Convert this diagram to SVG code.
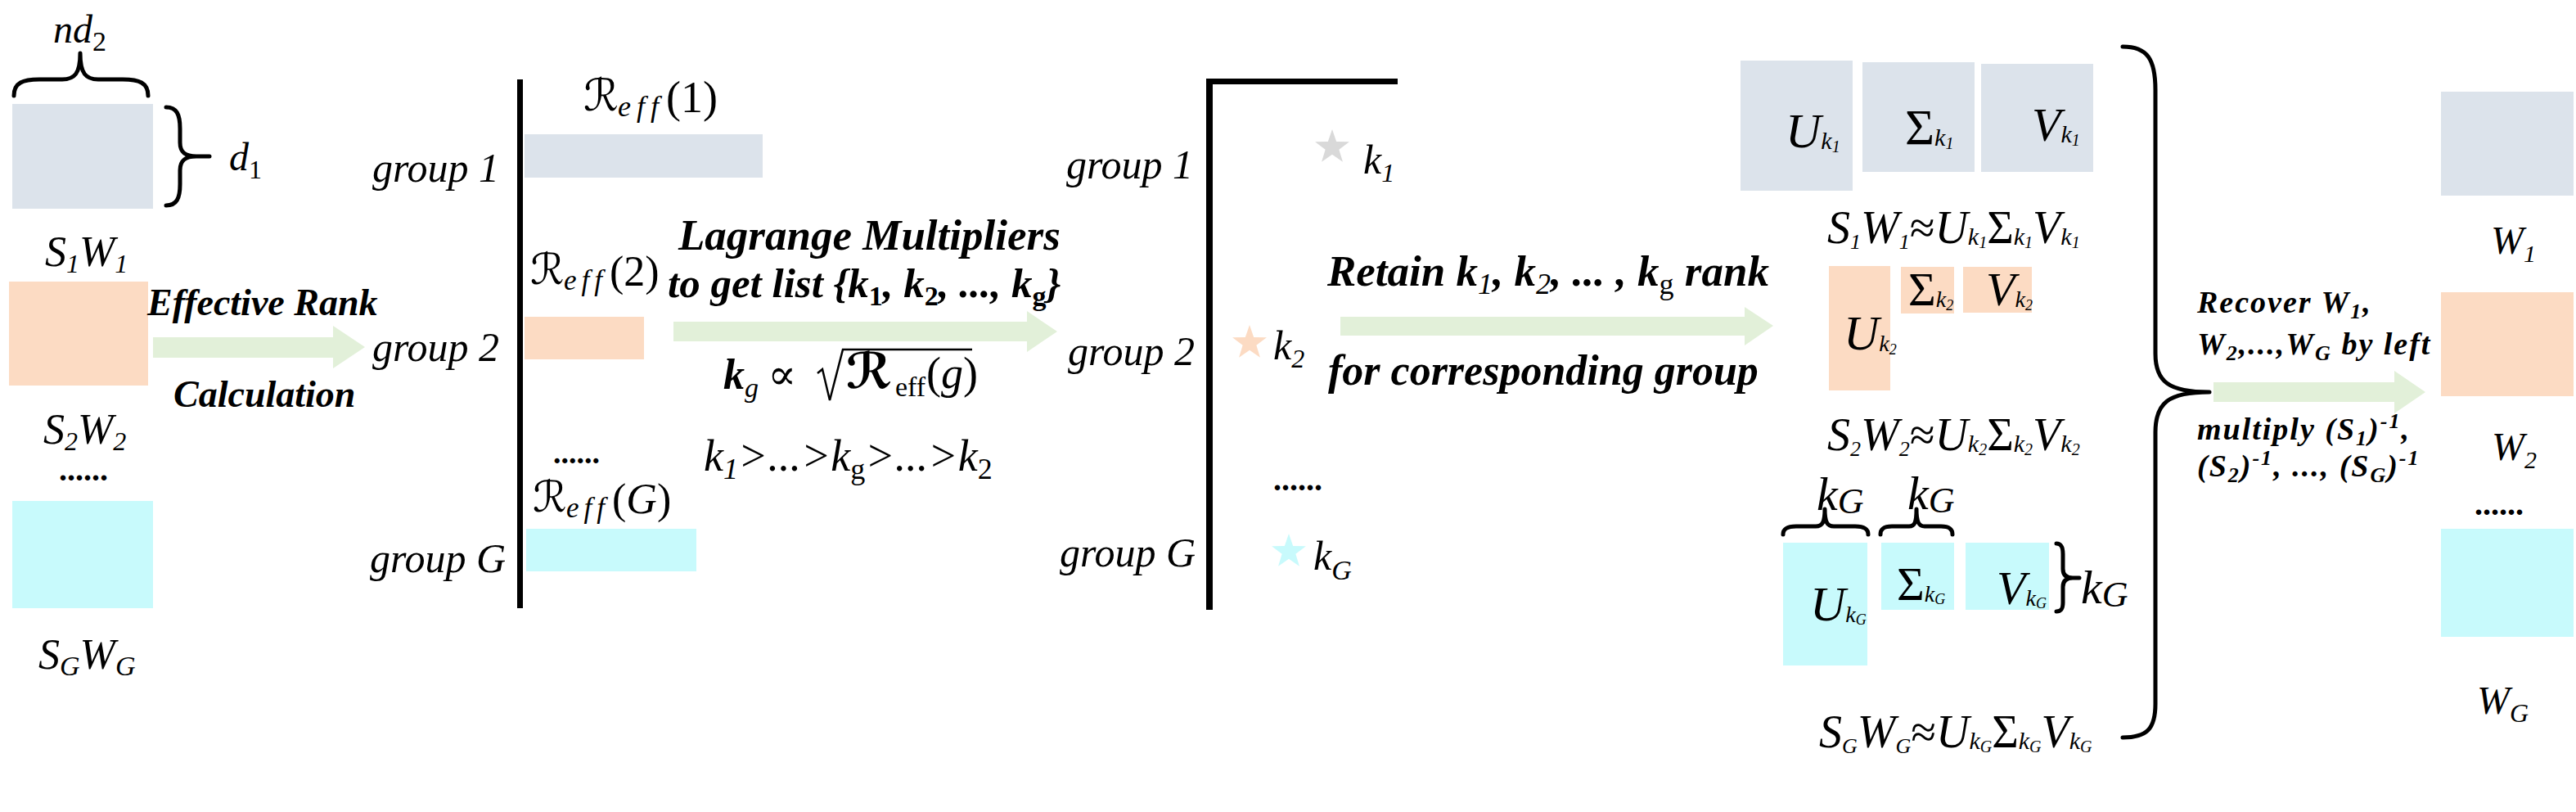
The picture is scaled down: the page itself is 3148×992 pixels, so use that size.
<svg xmlns="http://www.w3.org/2000/svg" xmlns:xlink="http://www.w3.org/1999/xlink" width="3148" height="992" viewBox="0 0 3148 992" font-family="'Liberation Serif', 'Times New Roman', serif">
<style>
text { font-family: "Liberation Serif", "Times New Roman", "DejaVu Serif", serif; fill: #000; }
.i { font-style: italic; }
.bi { font-style: italic; font-weight: bold; }
.b { font-weight: bold; }
.up { font-style: normal; }
.n { font-weight: normal; }
.cal { font-family: "DejaVu Serif", "DejaVu Sans", serif; font-style: normal; }
.blue { fill: #DCE3EB; }
.orange { fill: #FCDBC3; }
.cyan { fill: #C8FAFC; }
.green { fill: #E2F0D9; }
.ax { fill: #000; }
.brace { fill: none; stroke: #000; stroke-width: 5; stroke-linecap: round; stroke-linejoin: round; }
.thin { fill: none; stroke: #000; stroke-width: 2.5; }
</style>
<defs>
<polygon id="star" points="0,-22 5.17,-7.12 20.92,-6.8 8.37,2.72 12.93,17.8 0,8.8 -12.93,17.8 -8.37,2.72 -20.92,-6.8 -5.17,-7.12"/>
</defs>
<rect width="3148" height="992" fill="#fff"/>

<g id="input-matrices">
  <path class="brace" d="M17,117 C17,101 28,97 48,97 L76,97 C91,97 98,90 98,65 C98,90 105,97 120,97 L150,97 C170,97 181,101 181,117"/>
  <text class="i" x="65" y="52" font-size="48">nd<tspan class="up" font-size="34" dy="10">2</tspan></text>
  <rect class="blue" x="15" y="127" width="172" height="128"/>
  <path class="brace" d="M203,131 C216,131 220,140 220,157 L220,174 C220,186 226,191 240,191 C226,191 220,196 220,208 L220,225 C220,242 216,251 203,251 M238,191 L256,191"/>
  <text class="i" x="280" y="208" font-size="48">d<tspan class="up" font-size="32" dy="10">1</tspan></text>
  <text class="i" x="55" y="325" font-size="52">S<tspan font-size="32" dy="8">1</tspan><tspan dy="-8">W</tspan><tspan font-size="32" dy="8">1</tspan></text>
  <rect class="orange" x="11" y="344" width="170" height="127"/>
  <text class="i" x="53" y="542" font-size="52">S<tspan font-size="32" dy="8">2</tspan><tspan dy="-8">W</tspan><tspan font-size="32" dy="8">2</tspan></text>
  <text class="b" x="72" y="587" font-size="40">......</text>
  <rect class="cyan" x="15" y="612" width="172" height="131"/>
  <text class="i" x="47" y="817" font-size="52">S<tspan font-size="34" dy="8">G</tspan><tspan dy="-8">W</tspan><tspan font-size="34" dy="8">G</tspan></text>
</g>

<g id="effective-rank-chart">
  <rect class="ax" x="632" y="97" width="7" height="646"/>
  <text class="i" x="455" y="222" font-size="50">group 1</text>
  <text class="i" x="455" y="441" font-size="50">group 2</text>
  <text class="i" x="452" y="699" font-size="50">group G</text>
  <text x="713" y="135" font-size="54"><tspan class="cal">ℛ</tspan><tspan class="i" x="755" dy="7" font-size="36" letter-spacing="7">eff</tspan><tspan x="814" dy="-5" font-size="54">(1)</tspan></text>
  <rect class="blue" x="641" y="164" width="291" height="53"/>
  <text x="648" y="347" font-size="52"><tspan class="cal">ℛ</tspan><tspan class="i" x="689" dy="7" font-size="35" letter-spacing="6">eff</tspan><tspan x="745" dy="-5" font-size="52">(2)</tspan></text>
  <rect class="orange" x="641" y="387" width="146" height="52"/>
  <text class="b" x="676" y="566" font-size="38">......</text>
  <text x="651" y="625" font-size="52"><tspan class="cal">ℛ</tspan><tspan class="i" x="692" dy="7" font-size="35" letter-spacing="6">eff</tspan><tspan x="748" dy="-5" font-size="52">(<tspan class="i">G</tspan>)</tspan></text>
  <rect class="cyan" x="643" y="646" width="208" height="52"/>
</g>

<g id="rank-allocation-chart">
  <rect class="ax" x="1474" y="96" width="8" height="649"/>
  <rect class="ax" x="1474" y="96" width="234" height="7"/>
  <text class="i" x="1303" y="218" font-size="50">group 1</text>
  <text class="i" x="1305" y="446" font-size="50">group 2</text>
  <text class="i" x="1295" y="692" font-size="50">group G</text>
  <use xlink:href="#star" x="1628" y="180" fill="#D9D9D9"/>
  <text class="i" x="1666" y="212" font-size="50">k<tspan font-size="32" dy="10">1</tspan></text>
  <use xlink:href="#star" x="1527" y="419" fill="#FCDBC3"/>
  <text class="i" x="1556" y="439" font-size="50">k<tspan font-size="32" dy="10">2</tspan></text>
  <text class="b" x="1556" y="599" font-size="40">......</text>
  <use xlink:href="#star" x="1575" y="674" fill="#C8FAFC"/>
  <text class="i" x="1605" y="696" font-size="50">k<tspan font-size="34" dy="12">G</tspan></text>
</g>

<g id="svd-blocks">
  <rect class="blue" x="2127" y="74" width="137" height="159"/>
  <rect class="blue" x="2276" y="76" width="137" height="134"/>
  <rect class="blue" x="2421" y="78" width="137" height="132"/>
  <text class="i" x="2182" y="180" font-size="60">U<tspan font-size="30" dy="2">k</tspan><tspan font-size="20" dy="4">1</tspan></text>
  <text x="2328" y="176" font-size="62">Σ<tspan class="i" font-size="30" dy="2">k</tspan><tspan class="i" font-size="20" dy="4">1</tspan></text>
  <text class="i" x="2483" y="172" font-size="58">V<tspan font-size="30" dy="2">k</tspan><tspan font-size="20" dy="4">1</tspan></text>

  <text x="2233" y="297" font-size="56"><tspan class="i">S</tspan><tspan class="i" font-size="26" dy="7">1</tspan><tspan class="i" dy="-7">W</tspan><tspan class="i" font-size="26" dy="7">1</tspan><tspan dy="-7">≈</tspan><tspan class="i">U</tspan><tspan class="i" font-size="30" dy="2">k</tspan><tspan class="i" font-size="20" dy="4">1</tspan><tspan dy="-6">Σ</tspan><tspan class="i" font-size="30" dy="2">k</tspan><tspan class="i" font-size="20" dy="4">1</tspan><tspan class="i" dy="-6">V</tspan><tspan class="i" font-size="30" dy="2">k</tspan><tspan class="i" font-size="20" dy="4">1</tspan></text>

  <rect class="orange" x="2235" y="325" width="75" height="152"/>
  <rect class="orange" x="2323" y="326" width="65" height="57"/>
  <rect class="orange" x="2399" y="326" width="84" height="56"/>
  <text x="2332" y="373" font-size="58">Σ<tspan class="i" font-size="28" dy="2">k</tspan><tspan class="i" font-size="18" dy="4">2</tspan></text>
  <text class="i" x="2427" y="373" font-size="58">V<tspan font-size="28" dy="2">k</tspan><tspan font-size="18" dy="4">2</tspan></text>
  <text class="i" x="2253" y="427" font-size="60">U<tspan font-size="28" dy="2">k</tspan><tspan font-size="18" dy="4">2</tspan></text>

  <text x="2233" y="550" font-size="56"><tspan class="i">S</tspan><tspan class="i" font-size="26" dy="7">2</tspan><tspan class="i" dy="-7">W</tspan><tspan class="i" font-size="26" dy="7">2</tspan><tspan dy="-7">≈</tspan><tspan class="i">U</tspan><tspan class="i" font-size="30" dy="2">k</tspan><tspan class="i" font-size="20" dy="4">2</tspan><tspan dy="-6">Σ</tspan><tspan class="i" font-size="30" dy="2">k</tspan><tspan class="i" font-size="20" dy="4">2</tspan><tspan class="i" dy="-6">V</tspan><tspan class="i" font-size="30" dy="2">k</tspan><tspan class="i" font-size="20" dy="4">2</tspan></text>

  <text class="i" x="2220" y="623" font-size="58">k<tspan font-size="44" dy="4">G</tspan></text>
  <path class="brace" d="M2179,653 C2179,646 2184,643 2195,643 L2219,643 C2227,643 2230,638 2230,622 C2230,638 2233,643 2241,643 L2267,643 C2278,643 2283,646 2283,653"/>
  <text class="i" x="2331" y="622" font-size="58">k<tspan font-size="44" dy="4">G</tspan></text>
  <path class="brace" d="M2298,653 C2298,646 2302,643 2312,643 L2333,643 C2340,643 2342,638 2342,622 C2342,638 2345,643 2352,643 L2372,643 C2382,643 2386,646 2386,653"/>
  <rect class="cyan" x="2179" y="663" width="103" height="150"/>
  <rect class="cyan" x="2299" y="663" width="89" height="82"/>
  <rect class="cyan" x="2402" y="663" width="102" height="82"/>
  <path class="brace" d="M2513,664 C2519,664 2521,668 2521,677 L2521,695 C2521,702 2525,706 2533,706 C2525,706 2521,710 2521,717 L2521,736 C2521,744 2519,747 2513,747 M2532,706 L2541,706"/>
  <text class="i" x="2543" y="737" font-size="58">k<tspan font-size="44" dy="4">G</tspan></text>
  <text x="2318" y="733" font-size="58">Σ<tspan class="i" font-size="28" dy="2">k</tspan><tspan class="i" font-size="18" dy="3">G</tspan></text>
  <text class="i" x="2440" y="738" font-size="58">V<tspan font-size="28" dy="2">k</tspan><tspan font-size="18" dy="3">G</tspan></text>
  <text class="i" x="2212" y="758" font-size="60">U<tspan font-size="28" dy="2">k</tspan><tspan font-size="18" dy="3">G</tspan></text>

  <text x="2223" y="913" font-size="56"><tspan class="i">S</tspan><tspan class="i" font-size="26" dy="7">G</tspan><tspan class="i" dy="-7">W</tspan><tspan class="i" font-size="26" dy="7">G</tspan><tspan dy="-7">≈</tspan><tspan class="i">U</tspan><tspan class="i" font-size="30" dy="2">k</tspan><tspan class="i" font-size="20" dy="4">G</tspan><tspan dy="-6">Σ</tspan><tspan class="i" font-size="30" dy="2">k</tspan><tspan class="i" font-size="20" dy="4">G</tspan><tspan class="i" dy="-6">V</tspan><tspan class="i" font-size="30" dy="2">k</tspan><tspan class="i" font-size="20" dy="4">G</tspan></text>
</g>

<g id="merge-brace">
  <path class="brace" d="M2594,57 C2624,57 2634,72 2634,110 L2634,432 C2634,466 2650,479 2700,479 C2650,479 2634,492 2634,528 L2634,860 C2634,890 2624,901 2594,901"/>
</g>

<g id="output-matrices">
  <rect class="blue" x="2983" y="112" width="162" height="127"/>
  <text class="i" x="3044" y="310" font-size="48">W<tspan font-size="30" dy="10">1</tspan></text>
  <rect class="orange" x="2983" y="357" width="162" height="127"/>
  <text class="i" x="3045" y="562" font-size="48">W<tspan font-size="30" dy="10">2</tspan></text>
  <text class="b" x="3024" y="629" font-size="40">......</text>
  <rect class="cyan" x="2983" y="646" width="162" height="132"/>
  <text class="i" x="3027" y="872" font-size="48">W<tspan font-size="32" dy="10">G</tspan></text>
</g>

<g id="connectors">
  <polygon class="green" points="187,412 407,412 407,398 446,424 407,450 407,437 187,437"/>
  <polygon class="green" points="823,393 1255,393 1255,380 1292,405 1255,430 1255,417 823,417"/>
  <polygon class="green" points="1638,387 2132,387 2132,375 2167,398 2132,422 2132,410 1638,410"/>
  <polygon class="green" points="2705,467 2926,467 2926,453 2964,479 2926,505 2926,491 2705,491"/>

  <g id="label-effective-rank">
    <text class="bi" x="180" y="385" font-size="46">Effective Rank</text>
    <text class="bi" x="212" y="497" font-size="46">Calculation</text>
  </g>
  <g id="label-lagrange">
    <text class="bi" x="829" y="305" font-size="53">Lagrange Multipliers</text>
    <text class="bi" x="816" y="363" font-size="51">to get list {k<tspan class="up" font-size="34" dy="10">1</tspan><tspan dy="-10">, k</tspan><tspan class="up" font-size="34" dy="10">2</tspan><tspan dy="-10">, ..., k</tspan><tspan class="up" font-size="34" dy="10">g</tspan><tspan dy="-10">}</tspan></text>
    <text x="884" y="475" font-size="52"><tspan class="bi">k</tspan><tspan class="i" font-size="34" dy="10">g</tspan><tspan x="938" dy="-10">∝</tspan></text>
    <path class="thin" d="M999,456 L1005,451 L1014,489 L1030,427 L1188,427"/>
    <text x="1034" y="474" font-size="60"><tspan class="cal b">ℛ</tspan><tspan x="1094" dy="10" font-size="34">eff</tspan><tspan x="1132" dy="-10" font-size="54">(<tspan class="i">g</tspan>)</tspan></text>
    <text class="i" x="860" y="575" font-size="54">k<tspan font-size="36" dy="10">1</tspan><tspan dy="-10">&gt;...&gt;k</tspan><tspan class="up" font-size="36" dy="10">g</tspan><tspan dy="-10">&gt;...&gt;k</tspan><tspan class="up" font-size="36" dy="10">2</tspan></text>
  </g>
  <g id="label-retain">
    <text class="bi" x="1622" y="349" font-size="53">Retain k<tspan class="n" font-size="36" dy="10">1</tspan><tspan dy="-10">, k</tspan><tspan class="n" font-size="36" dy="10">2</tspan><tspan dy="-10">, ... , k</tspan><tspan class="n up" font-size="36" dy="10">g</tspan><tspan dy="-10"> rank</tspan></text>
    <text class="bi" x="1623" y="470" font-size="52">for corresponding group</text>
  </g>
  <g id="label-recover" letter-spacing="2">
    <text class="bi" x="2685" y="382" font-size="38">Recover W<tspan font-size="26" dy="7">1</tspan><tspan dy="-7">,</tspan></text>
    <text class="bi" x="2685" y="433" font-size="38">W<tspan font-size="26" dy="7">2</tspan><tspan dy="-7">,...,W</tspan><tspan font-size="26" dy="7">G</tspan><tspan dy="-7">  by left</tspan></text>
    <text class="bi" x="2685" y="537" font-size="38">multiply (S<tspan font-size="26" dy="7">1</tspan><tspan dy="-7">)</tspan><tspan font-size="26" dy="-14">-1</tspan><tspan dy="14">,</tspan></text>
    <text class="bi" x="2685" y="582" font-size="38">(S<tspan font-size="26" dy="7">2</tspan><tspan dy="-7">)</tspan><tspan font-size="26" dy="-14">-1</tspan><tspan dy="14">, ..., (S</tspan><tspan font-size="26" dy="7">G</tspan><tspan dy="-7">)</tspan><tspan font-size="26" dy="-14">-1</tspan></text>
  </g>
</g>
</svg>
